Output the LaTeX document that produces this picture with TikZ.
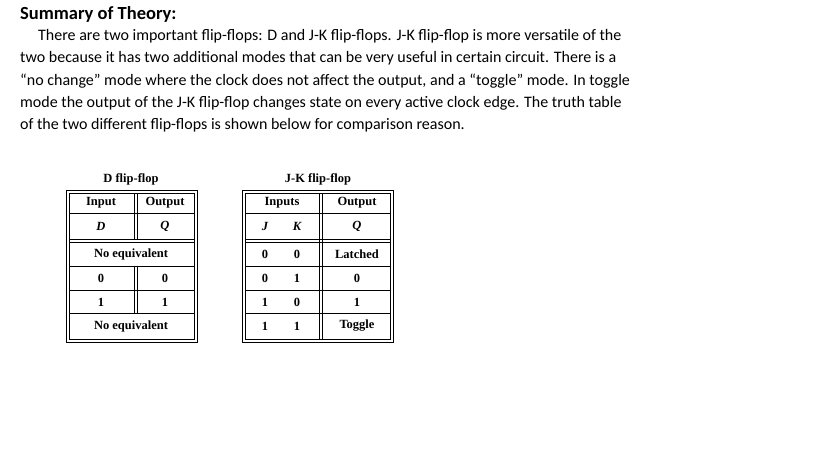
\documentclass[tikz,border=0pt]{standalone}
\usepackage{fontspec}
\setmainfont{Carlito}
\newfontfamily\tabfont{Liberation Serif}
\begin{document}
\begin{tikzpicture}[x=1pt,y=-1pt,
  para/.style={anchor=base west,inner sep=0pt,font=\fontsize{16}{18}\selectfont},
  cell/.style={inner sep=0pt,font=\tabfont\bfseries\fontsize{12.5}{13}\selectfont},
  ttl/.style={inner sep=0pt,font=\tabfont\bfseries\fontsize{12.5}{13}\selectfont},
  ln/.style={line width=0.8pt}]
\useasboundingbox (0,0) rectangle (819,460);
\node[para,font=\bfseries\fontsize{18.5}{20}\selectfont] (title) at (20,20) {Summary of Theory:};
\node[para] (l1) at (38,41) {There are two important flip-flops: D and J-K flip-flops. J-K flip-flop is more versatile of the};
\node[para] (l2) at (20,63) {two because it has two additional modes that can be very useful in certain circuit. There is a};
\node[para] (l3) at (20,85) {“no change” mode where the clock does not affect the output, and a “toggle” mode. In toggle};
\node[para] (l4) at (20,107) {mode the output of the J-K flip-flop changes state on every active clock edge. The truth table};
\node[para] (l5) at (20,129) {of the two different flip-flops is shown below for comparison reason.};
% D table
\node[ttl] (dt) at (131,179) {D flip-flop};
\draw[ln] (66,190) rectangle (197,342);
\draw[ln] (69,193) rectangle (194,339);
\draw[ln] (69,213) -- (194,213);
\draw[ln] (69,239) -- (194,239);
\draw[ln] (69,242) -- (194,242);
\draw[ln] (69,266) -- (194,266);
\draw[ln] (69,290) -- (194,290);
\draw[ln] (69,313) -- (194,313);
\draw[ln] (134,193) -- (134,239);
\draw[ln] (137,193) -- (137,239);
\draw[ln] (134,266) -- (134,313);
\draw[ln] (137,266) -- (137,313);
\node[cell] (d1) at (101,203) {Input};
\node[cell] (d2) at (165,203) {Output};
\node[cell] (d3) at (101,226) {\itshape D};
\node[cell] (d4) at (165,226) {\itshape Q};
\node[cell] (d5) at (131,254) {No equivalent};
\node[cell] (d6) at (101,278) {0};
\node[cell] (d7) at (165,278) {0};
\node[cell] (d8) at (101,302) {1};
\node[cell] (d9) at (165,302) {1};
\node[cell] (d10) at (131,326) {No equivalent};
% JK table
\node[ttl] (jt) at (318,179) {J-K flip-flop};
\draw[ln] (242,190) rectangle (393,342);
\draw[ln] (245,193) rectangle (390,339);
\draw[ln] (245,213) -- (390,213);
\draw[ln] (245,239) -- (390,239);
\draw[ln] (245,242) -- (390,242);
\draw[ln] (245,266) -- (390,266);
\draw[ln] (245,290) -- (390,290);
\draw[ln] (245,313) -- (390,313);
\draw[ln] (319,193) -- (319,339);
\draw[ln] (322,193) -- (322,339);
\node[cell] (j1) at (282,203) {Inputs};
\node[cell] (j2) at (357,203) {Output};
\node[cell] (j3) at (265,226) {\itshape J};
\node[cell] (j4) at (297,226) {\itshape K};
\node[cell] (j5) at (357,226) {\itshape Q};
\node[cell] (j6) at (265,254) {0};
\node[cell] (j7) at (297,254) {0};
\node[cell] (j8) at (357,254) {Latched};
\node[cell] (j9) at (265,278) {0};
\node[cell] (j10) at (297,278) {1};
\node[cell] (j11) at (357,278) {0};
\node[cell] (j12) at (265,302) {1};
\node[cell] (j13) at (297,302) {0};
\node[cell] (j14) at (357,302) {1};
\node[cell] (j15) at (265,326) {1};
\node[cell] (j16) at (297,326) {1};
\node[cell] (j17) at (357,326) {Toggle};
\end{tikzpicture}
\end{document}
